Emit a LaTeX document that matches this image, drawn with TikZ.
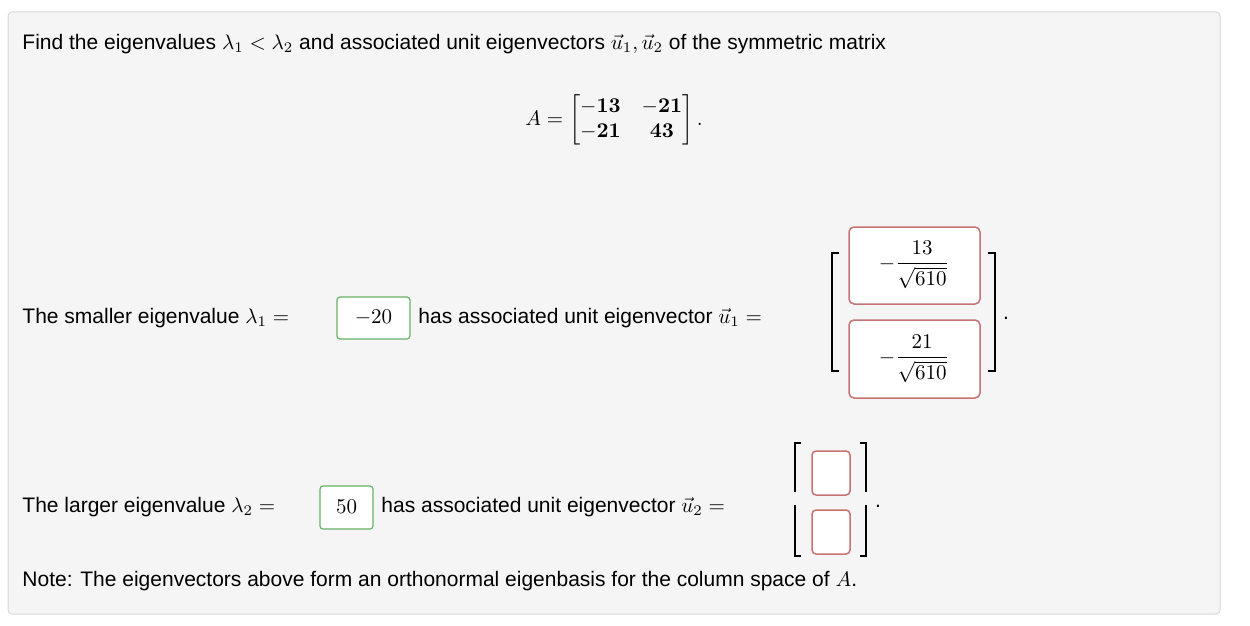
\documentclass[tikz,border=0pt]{standalone}
\usepackage{amsmath}
\usepackage{fontspec}
\setmainfont{Liberation Sans}
\newfontfamily\lmr{Latin Modern Roman}
\newcommand{\bnum}[1]{\text{\lmr\bfseries #1}}
\begin{document}
\begin{tikzpicture}[x=1pt,y=-1pt,
  fs/.style={font=\normalsize,scale=2.1,transform shape},
  txt/.style={fs,anchor=west,inner sep=0pt},
  gbox/.style={draw=green!50!black!60,fill=white,rounded corners=3pt,line width=1.2pt},
  rbox/.style={draw=red!60!black!55,fill=white,rounded corners=5pt,line width=1.5pt},
  brk/.style={line width=1.6pt}]
\useasboundingbox (0,0) rectangle (1250,626);
\draw[fill=black!4,draw=black!15,rounded corners=4pt,line width=1pt] (8,12) rectangle (1220,614);
\node[txt] (t1) at (22,44) {Find the eigenvalues $\lambda_1<\lambda_2$ and associated unit eigenvectors $\vec u_1,\vec u_2$ of the symmetric matrix};
\node[fs,inner sep=0pt] (A) at (614,120) {$A=\begin{bmatrix}-\bnum{13} & -\bnum{21}\\ -\bnum{21} & \bnum{43}\end{bmatrix}.$};
% row 1
\node[txt] (s1) at (22,318) {The smaller eigenvalue $\lambda_1=$};
\draw[gbox] (337,297) rectangle (410,339);
\node[fs] (v1) at (373.5,318) {$-20$};
\node[txt] (h1) at (418,318) {has associated unit eigenvector $\vec u_1=$};
\draw[brk] (839,253) -- (832,253) -- (832,371) -- (839,371);
\draw[brk] (988,253) -- (995,253) -- (995,371) -- (988,371);
\node[fs] (dot1) at (1006,318) {.};
\draw[rbox] (849,227) rectangle (980,304);
\draw[rbox] (849,320) rectangle (980,398);
\node[fs,inner sep=0pt] (f1) at (914,265) {$-\dfrac{13}{\sqrt{610}}$};
\node[fs,inner sep=0pt] (f2) at (914,359) {$-\dfrac{21}{\sqrt{610}}$};
% row 2
\node[txt] (s2) at (22,507) {The larger eigenvalue $\lambda_2=$};
\draw[gbox] (320,486) rectangle (373,529);
\node[fs] (v2) at (346.5,507) {$50$};
\node[txt] (h2) at (381,507) {has associated unit eigenvector $\vec u_2=$};
\draw[brk] (801,443) -- (795,443) -- (795,492);
\draw[brk] (795,505) -- (795,556) -- (801,556);
\draw[brk] (860,443) -- (866,443) -- (866,492);
\draw[brk] (866,505) -- (866,556) -- (860,556);
\draw[rbox,rounded corners=4pt] (812,451) rectangle (850,495);
\draw[rbox,rounded corners=4pt] (812,510) rectangle (850,554);
\node[fs] (dot2) at (878,506) {.};
\node[txt] (n) at (22,581) {Note: The eigenvectors above form an orthonormal eigenbasis for the column space of $A$.};
\end{tikzpicture}
\end{document}
